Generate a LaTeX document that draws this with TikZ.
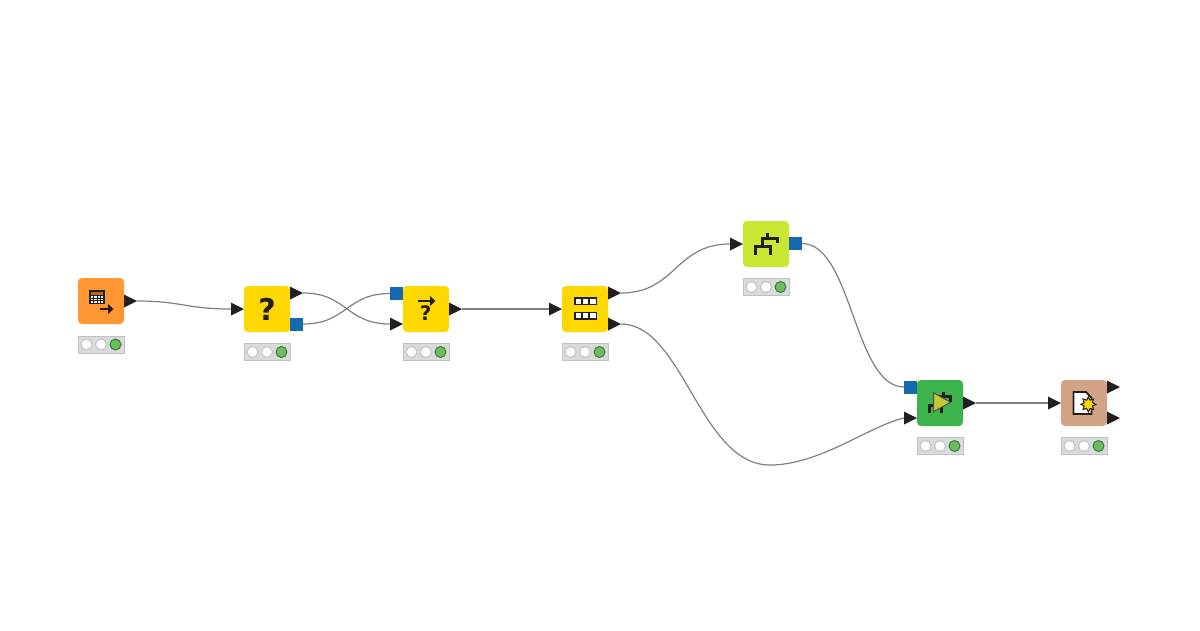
\documentclass[tikz,border=0pt]{standalone}
\usepackage{fontspec}
\setmainfont{DejaVu Sans}
\usetikzlibrary{shapes.geometric}
\definecolor{porttri}{HTML}{231F20}
\definecolor{portblue}{HTML}{1469AF}
\definecolor{wire}{HTML}{808080}
\definecolor{sorange}{HTML}{FF9632}
\definecolor{syellow}{HTML}{FFD800}
\definecolor{slime}{HTML}{C9E632}
\definecolor{sgreen}{HTML}{3CB44B}
\definecolor{sbrown}{HTML}{D2A384}
\definecolor{barfill}{HTML}{D9DCDC}
\definecolor{barline}{HTML}{BFC2C2}
\definecolor{lampgreen}{HTML}{6ABE5E}
\definecolor{lampedge}{HTML}{3F7A3B}
\definecolor{playyellow}{HTML}{C8C832}
\tikzset{
  body/.style={rectangle,rounded corners=4,minimum size=46,inner sep=0,outer sep=0,fill=#1},
  tri/.style={isosceles triangle,isosceles triangle apex angle=53,isosceles triangle stretches,
    minimum width=13,minimum height=13,inner sep=0,outer sep=0,fill=porttri,anchor=lower side},
  sq/.style={rectangle,minimum size=13,inner sep=0,outer sep=0,fill=portblue},
  conn/.style={draw=wire,line width=1.2},
  statbar/.style={rectangle,minimum width=46,minimum height=17,inner sep=0,fill=barfill,draw=barline,line width=.7},
  lamp/.style={circle,minimum size=11,inner sep=0,fill=white,draw=barline,line width=1},
  lampon/.style={circle,minimum size=11,inner sep=0,fill=lampgreen,draw=lampedge,line width=1},
  ico/.style={draw=porttri,line width=3,line cap=butt,line join=miter},
  qmark/.style={inner sep=0,text=porttri,font=\bfseries\fontsize{#1}{#1}\selectfont},
}
\newcommand{\statusset}[3]{%
  \node[statbar] (#1-bar) at (#2,#3) {};
  \node[lamp] (#1-a) at (#2-14.5,#3) {};
  \node[lamp] (#1-b) at (#2,#3) {};
  \node[lampon] (#1-c) at (#2+14.5,#3) {};
}
\begin{document}
\begin{tikzpicture}[x=1pt,y=-1pt]
\useasboundingbox (0,0) rectangle (1200,630);
\fill[white] (0,0) rectangle (1200,630);
% bodies
\node[body=sorange] (n1) at (101,301) {};
\node[body=syellow] (n2) at (267,309) {};
\node[body=syellow] (n3) at (426,309) {};
\node[body=syellow] (n4) at (585,309) {};
\node[body=slime] (n5) at (766,244) {};
\node[body=sgreen] (n6) at (940,403) {};
\node[body=sbrown] (n7) at (1084,403) {};
% status
\statusset{s1}{101}{344.5}
\statusset{s2}{267}{352}
\statusset{s3}{426}{352}
\statusset{s4}{585}{352}
\statusset{s5}{766}{287}
\statusset{s6}{940}{446}
\statusset{s7}{1084}{446}
% connectors
\node[tri] (n1o) at (124,301) {};
\node[tri] (n2i) at (231,309) {};
\node[tri] (n2o) at (290,293) {};
\node[sq] (n2b) at (296.5,324) {};
\node[sq] (n3b) at (396.5,293.5) {};
\node[tri] (n3i) at (390,324) {};
\node[tri] (n3o) at (449,309) {};
\node[tri] (n4i) at (549,309) {};
\node[tri] (n4o) at (608,293) {};
\node[tri] (n4p) at (608,324) {};
\node[tri] (n5i) at (730,244) {};
\node[sq] (n5b) at (795.5,243.5) {};
\node[sq] (n6b) at (910.5,387) {};
\node[tri] (n6i) at (904,418) {};
\node[tri] (n6o) at (963,403) {};
\node[tri] (n7i) at (1048,403) {};
\node[tri] (n7o) at (1107,387) {};
\node[tri] (n7p) at (1107,418) {};
\draw[conn] (n1o.apex) .. controls +(45,0) and +(-45,0) .. (n2i.lower side);
\draw[conn] (n2o.apex) .. controls +(44,0) and +(-44,0) .. (n3i.lower side);
\draw[conn] (n2b.east) .. controls +(44,0) and +(-44,0) .. (n3b.west);
\draw[conn] (n3o.apex) -- (n4i.lower side);
\draw[conn] (n4o.apex) .. controls +(55,0) and +(-55,0) .. (n5i.lower side);
\draw[conn] (n4p.apex) .. controls +(62,0) and +(-70,0) .. (770,465) .. controls +(50,0) and +(-35,8) .. (n6i.lower side);
\draw[conn] (n5b.east) .. controls +(50,0) and +(-50,0) .. (n6b.west);
\draw[conn] (n6o.apex) -- (n7i.lower side);
% icon 1: table with arrow
\fill[sorange!70!black] (90,291) rectangle (104,295);
\fill[white] (90,295) rectangle (104,303.5);
\draw[porttri,line width=1.2] (90,291) rectangle (104,303.5);
\draw[porttri,line width=.8] (90,295) -- (104,295) (90,298) -- (104,298) (90,300.8) -- (104,300.8)
  (93.5,295) -- (93.5,303.5) (97,295) -- (97,303.5) (100.5,295) -- (100.5,303.5);
\draw[porttri,line width=2.4] (100,309) -- (110,309);
\fill[porttri] (108,304) -- (113.5,309) -- (108,314) -- cycle;
% icon 2
\node[qmark=30] (q2) at (267,309) {?};
% icon 3
\node[qmark=20] (q3) at (425.7,313.5) {?};
\draw[porttri,line width=2.2] (418,301) -- (432,301);
\fill[porttri] (430,296) -- (435.5,301) -- (430,306) -- cycle;
% icon 4
\fill[white] (575,298) rectangle (596.5,304.5) (575,312.5) rectangle (596.5,319);
\draw[porttri,line width=1.8] (575,298) rectangle (596.5,304.5) (582.2,298) -- (582.2,304.5) (589.3,298) -- (589.3,304.5);
\draw[porttri,line width=1.8] (575,312.5) rectangle (596.5,319) (582.2,312.5) -- (582.2,319) (589.3,312.5) -- (589.3,319);
% icon 5
\draw[ico] (767.7,232.7) -- (767.7,238.3) (762.3,246.7) -- (762.3,238.3) -- (777.7,238.3) -- (777.7,243.3)
  (755.7,254.5) -- (755.7,246.7) -- (770,246.7) -- (770,254.5);
% icon 6
\draw[ico] (943.3,391.7) -- (943.3,396.7) (938.3,405.7) -- (938.3,396.7) -- (950,396.7) -- (950,401.7)
  (929.3,412.7) -- (929.3,405.7) -- (941.7,405.7) -- (941.7,412.7);
\draw[fill=playyellow,draw=porttri!80,line width=1,line join=miter] (933.5,392.7) -- (933.5,411.7) -- (950.5,402.3) -- cycle;
% icon 7
\draw[fill=white,draw=porttri,line width=1.8,line join=miter] (1073.5,392) -- (1086,392) -- (1091.5,398) -- (1091.5,414) -- (1073.5,414) -- cycle;
\node[star,star points=8,star point ratio=1.7,minimum size=15,inner sep=0,fill=syellow,draw=porttri,line width=1] (st) at (1088.3,404.3) {};
\end{tikzpicture}
\end{document}
